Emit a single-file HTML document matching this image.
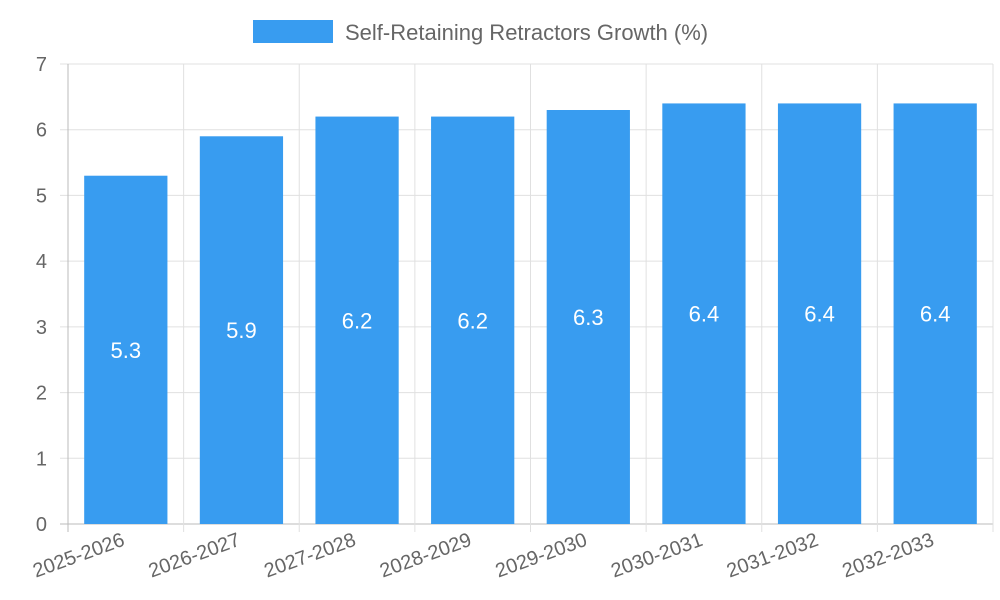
<!DOCTYPE html>
<html><head><meta charset="utf-8"><style>
body{margin:0;background:#fff;}
svg{display:block;font-family:"Liberation Sans",sans-serif;}
</style></head><body>
<svg id="c" width="1000" height="600"></svg>
<script>
const cats=["2025-2026","2026-2027","2027-2028","2028-2029","2029-2030","2030-2031","2031-2032","2032-2033"];
const vals=[5.3,5.9,6.2,6.2,6.3,6.4,6.4,6.4];
const yTicks=[0,1,2,3,4,5,6,7];
const seriesName="Self-Retaining Retractors Growth (%)";
const NS="http://www.w3.org/2000/svg";
const svg=document.getElementById('c');
const L=68,R=993,T=64,B=524,yMax=7;
const cw=(R-L)/cats.length;
const y=v=>B-(B-T)*v/yMax;
const x=i=>L+cw*i;
function mk(t,a,p){const e=document.createElementNS(NS,t);for(const k in a)e.setAttribute(k,a[k]);(p||svg).appendChild(e);return e;}
// grid
yTicks.forEach(t=>{
 const g=mk('line',{x1:60,x2:R,y1:y(t),y2:y(t),stroke:t===0?'#bbb':'#e0e0e0','stroke-width':1});
 
 
 const tx=mk('text',{x:47,y:y(t)+7,'text-anchor':'end','font-size':20,fill:'#666'});
 tx.textContent=t;
 
 
});
for(let i=0;i<=cats.length;i++){
 const g=mk('line',{x1:x(i),x2:x(i),y1:T,y2:532,stroke:i===0?'#bbb':'#e0e0e0','stroke-width':1});
 
 
}
cats.forEach((c,i)=>{
 const cx=x(i)+cw/2, bw=cw*0.72;
 const r=mk('rect',{x:cx-bw/2,y:y(vals[i]),width:bw,height:B-y(vals[i]),fill:'#389cf0'});
 
 
 const v=mk('text',{x:cx,y:(y(vals[i])+B)/2+8,'text-anchor':'middle','font-size':22,fill:'#fff'});
 v.textContent=vals[i];
 
 
 const lb=mk('text',{x:cx,y:545,'text-anchor':'end','font-size':20,fill:'#666',transform:`rotate(-20 ${cx} 545)`});
 lb.textContent=c;
 
 
});
const lg=mk('rect',{x:253,y:20,width:80,height:23,fill:'#389cf0'});


const lt=mk('text',{x:345,y:40,'font-size':22,fill:'#666'});
lt.textContent=seriesName;


</script>
</body></html>
